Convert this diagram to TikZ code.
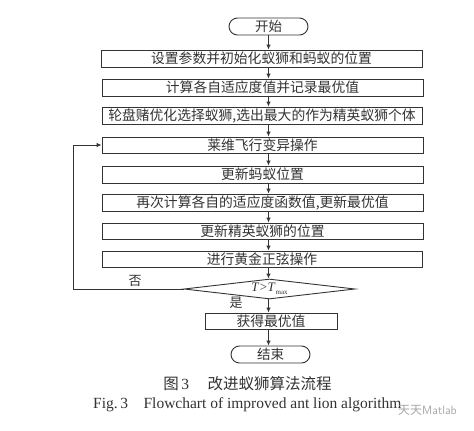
\documentclass[tikz,border=0pt]{standalone}
\usepackage{fontspec}
\setmainfont{Liberation Serif}
\newfontfamily\cjk{Noto Sans CJK SC}
\usetikzlibrary{shapes.geometric,arrows.meta}
\definecolor{ink}{HTML}{333333}
\tikzset{
  box/.style={draw=ink, line width=0.9pt, minimum width=321pt, minimum height=17pt, inner sep=0pt, text=ink, font=\cjk\fontsize{13.8}{13.8}\selectfont},
  term/.style={draw=ink, line width=0.9pt, rounded corners=8.5pt, minimum width=79pt, minimum height=17pt, inner sep=0pt, text=ink, font=\cjk\fontsize{13.5}{13.5}\selectfont},
  dec/.style={draw=ink, line width=0.9pt, diamond, aspect=8.5, minimum width=171pt, minimum height=20pt, inner sep=0pt, text=ink, font=\fontsize{13}{13}\selectfont},
  arr/.style={draw=ink, line width=0.9pt, -{Latex[length=5pt,width=4.5pt]}},
  lbl/.style={text=ink, inner sep=0pt, font=\cjk\fontsize{13}{13}\selectfont}
}
\begin{document}
\begin{tikzpicture}[x=1pt,y=-1pt]
\useasboundingbox[fill=white] (0,0) rectangle (474,431);
\node[term] (start) at (268.5,26.5) {开始};
\node[box] (b1) at (261.5,58.5) {设置参数并初始化蚁狮和蚂蚁的位置};
\node[box] (b2) at (262.5,87.5) {计算各自适应度值并记录最优值};
\node[box, minimum width=320pt] (b3) at (262,115.5) {轮盘赌优化选择蚁狮,选出最大的作为精英蚁狮个体};
\node[box, minimum height=16pt] (b4) at (262.5,145) {莱维飞行变异操作};
\node[box] (b5) at (262.5,174.5) {更新蚂蚁位置};
\node[box] (b6) at (262.5,202.5) {再次计算各自的适应度函数值,更新最优值};
\node[box, minimum height=16pt] (b7) at (262.5,231) {更新精英蚁狮的位置};
\node[box, minimum height=16pt, minimum width=320pt] (b8) at (262,259) {进行黄金正弦操作};
\node[dec] (d) at (269.5,289) {\textit{T}\kern0.5pt>\kern0.5pt\textit{T}\raisebox{-2.5pt}{\fontsize{7}{7}\selectfont max}};
\node[box, minimum width=132pt, minimum height=16pt] (b9) at (271,321) {获得最优值};
\node[term] (end) at (270.5,354.5) {结束};
\coordinate (loopx) at (73,0);

\draw[arr] (start.south) -- (b1.north -| start);
\draw[arr] (b1.south -| start) -- (b2.north -| start);
\draw[arr] (b2.south -| start) -- (b3.north -| start);
\draw[arr] (b3.south -| start) -- (b4.north -| start);
\draw[arr] (b4.south -| start) -- (b5.north -| start);
\draw[arr] (b5.south -| start) -- (b6.north -| start);
\draw[arr] (b6.south -| start) -- (b7.north -| start);
\draw[arr] (b7.south -| start) -- (b8.north -| start);
\draw[arr] (b8.south -| start) -- (d.north -| start);
\draw[arr] (d.south -| start) -- (b9.north -| start);
\draw[arr] (b9.south -| start) -- (end.north -| start);
\draw[arr] (d.west) -- (d.west -| loopx) |- (b4.west);

\node[lbl] (no) at (135,281) {否};
\node[lbl] (yes) at (236,303) {是};

\node[text=ink, inner sep=0pt, font=\fontsize{15.5}{15.5}\selectfont] (cap1) at (247.5,384) {{\cjk 图}\,3\hspace{1.2em}{\cjk 改进蚁狮算法流程}};
\node[text=ink, inner sep=0pt, anchor=west, font=\fontsize{15.5}{15.5}\selectfont] (cap2) at (93,405) {Fig.\,3\hspace{1em}Flowchart of improved ant lion algorithm};
\node[text=black!35, inner sep=0pt, anchor=west, font=\sffamily\fontsize{12}{12}\selectfont] (wm) at (398,410) {{\cjk 天天}Matlab};
\end{tikzpicture}
\end{document}
